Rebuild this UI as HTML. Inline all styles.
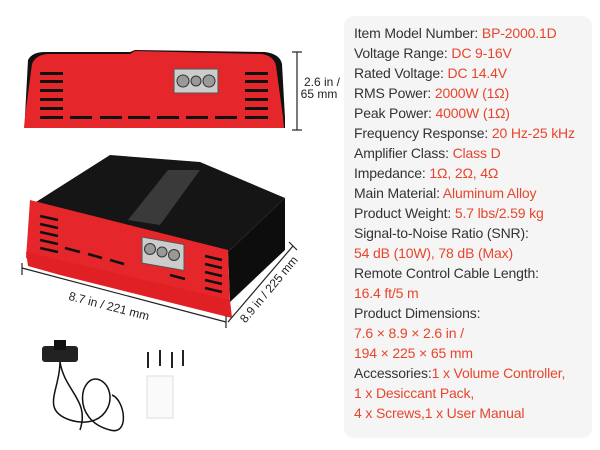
<!DOCTYPE html>
<html><head><meta charset="utf-8"><style>
html,body{margin:0;padding:0}
body{width:600px;height:450px;background:#fff;position:relative;overflow:hidden;font-family:"Liberation Sans",sans-serif}
.panel{position:absolute;left:344px;top:16px;width:248px;height:422px;background:#f5f5f5;border-radius:10px}
.t{position:absolute;left:354px;font-size:14px;color:#333;white-space:nowrap;letter-spacing:-0.15px;line-height:20px}
.o{color:#e8452c}
svg{position:absolute;left:0;top:0}
</style></head><body>
<div class="panel"></div>
<svg width="340" height="450" viewBox="0 0 340 450">
<path d="M28,60 Q32,52 45,52 L130,52 L135,50 L265,52 Q280,54 282,64 L285,118 L285,128 L25,128 L25,116 Z" fill="#111"/>
<path d="M32,64 Q36,54 50,54 L130,54 L135,51 L262,54 Q274,56 276,66 L283,117 L284,128 L24,128 L25,116 Z" fill="#e5262a"/>
<g fill="#111">
<rect x="40" y="72" width="23" height="3"/><rect x="40" y="80" width="23" height="3"/><rect x="40" y="89" width="23" height="3"/><rect x="40" y="98" width="23" height="3"/><rect x="40" y="107" width="23" height="3"/><rect x="40" y="116" width="23" height="3"/>
<rect x="245" y="72" width="23" height="3"/><rect x="245" y="80" width="23" height="3"/><rect x="245" y="89" width="23" height="3"/><rect x="245" y="98" width="23" height="3"/><rect x="245" y="107" width="23" height="3"/><rect x="245" y="116" width="23" height="3"/>
<rect x="70" y="116" width="22" height="3"/><rect x="100" y="116" width="22" height="3"/><rect x="128" y="116" width="22" height="3"/><rect x="157" y="116" width="22" height="3"/><rect x="186" y="116" width="22" height="3"/><rect x="215" y="116" width="22" height="3"/>
</g>
<rect x="174" y="69" width="44" height="24" fill="#ccc" stroke="#555"/>
<circle cx="183" cy="81" r="6" fill="#999" stroke="#333"/><circle cx="196" cy="81" r="5" fill="#999" stroke="#333"/><circle cx="209" cy="81" r="6" fill="#999" stroke="#333"/>
<g stroke="#222" stroke-width="1.2"><line x1="297" y1="52" x2="297" y2="130"/><line x1="292" y1="52" x2="302" y2="52"/><line x1="292" y1="130" x2="302" y2="130"/></g>
<text x="322" y="86" font-size="12" text-anchor="middle" fill="#222" font-family="Liberation Sans">2.6 in /</text>
<text x="319" y="98" font-size="12" text-anchor="middle" fill="#222" font-family="Liberation Sans">65 mm</text>
<path d="M36,202 L110,155 L200,162 L285,198 L228,252 Z" fill="#151515"/>
<path d="M168,170 L200,170 L160,225 L128,220 Z" fill="#3a3a3a"/>
<path d="M228,252 L285,198 L285,250 L230,302 Z" fill="#0d0d0d"/>
<path d="M30,200 L228,250 L230,305 L26,258 Z" fill="#e5262a"/>
<path d="M26,252 L230,300 L232,318 L60,275 L28,266 Z" fill="#e02024"/>
<g stroke="#111" stroke-width="2.5">
<line x1="40" y1="216" x2="58" y2="220"/><line x1="40" y1="224" x2="58" y2="228"/><line x1="40" y1="232" x2="58" y2="236"/><line x1="40" y1="240" x2="58" y2="244"/><line x1="40" y1="248" x2="58" y2="252"/>
<line x1="205" y1="256" x2="222" y2="260"/><line x1="205" y1="264" x2="222" y2="268"/><line x1="205" y1="272" x2="222" y2="276"/><line x1="205" y1="280" x2="222" y2="284"/><line x1="205" y1="288" x2="222" y2="292"/>
<line x1="65" y1="248" x2="80" y2="252"/><line x1="88" y1="254" x2="102" y2="258"/><line x1="110" y1="260" x2="124" y2="264"/><line x1="170" y1="275" x2="185" y2="279"/>
</g>
<rect x="142" y="238" width="42" height="26" fill="#ccc" stroke="#555" transform="skewY(10) translate(0,-26)"/>
<circle cx="150" cy="249" r="5.5" fill="#999" stroke="#333"/><circle cx="162" cy="252" r="5" fill="#999" stroke="#333"/><circle cx="174" cy="255" r="5.5" fill="#999" stroke="#333"/>
<g stroke="#222" stroke-width="1.2"><line x1="22" y1="268" x2="226" y2="322"/><line x1="22" y1="263" x2="22" y2="275"/><line x1="226" y1="316" x2="226" y2="328"/>
<line x1="228" y1="322" x2="293" y2="246"/><line x1="289" y1="242" x2="297" y2="250"/></g>
<text x="0" y="0" font-size="12" fill="#222" font-family="Liberation Sans" text-anchor="middle" transform="translate(108,310) rotate(14.5)">8.7 in / 221 mm</text>
<text x="0" y="0" font-size="12" fill="#222" font-family="Liberation Sans" text-anchor="middle" transform="translate(272,292) rotate(-50)">8.9 in / 225 mm</text>
<rect x="42" y="346" width="36" height="16" rx="3" fill="#222"/>
<rect x="54" y="340" width="12" height="10" fill="#111"/>
<path d="M60,362 C60,390 40,410 70,420 C110,432 120,390 100,380 C80,372 70,420 110,430 C130,436 125,400 112,395" fill="none" stroke="#111" stroke-width="1.5"/>
<path d="M60,362 C65,392 90,400 80,430" fill="none" stroke="#111" stroke-width="1.5"/>
<g stroke="#222" stroke-width="2"><line x1="148" y1="352" x2="148" y2="368"/><line x1="160" y1="350" x2="160" y2="366"/><line x1="172" y1="352" x2="172" y2="368"/><line x1="183" y1="350" x2="183" y2="366"/></g>
<rect x="147" y="376" width="26" height="42" fill="#fafafa" stroke="#ddd"/>
</svg>
<div class="t" style="top:23px">Item Model Number: <span class="o">BP-2000.1D</span></div>
<div class="t" style="top:43px">Voltage Range: <span class="o">DC 9-16V</span></div>
<div class="t" style="top:63px">Rated Voltage: <span class="o">DC 14.4V</span></div>
<div class="t" style="top:83px">RMS Power: <span class="o">2000W (1Ω)</span></div>
<div class="t" style="top:103px">Peak Power: <span class="o">4000W (1Ω)</span></div>
<div class="t" style="top:123px">Frequency Response: <span class="o">20 Hz-25 kHz</span></div>
<div class="t" style="top:143px">Amplifier Class: <span class="o">Class D</span></div>
<div class="t" style="top:163px">Impedance: <span class="o">1Ω, 2Ω, 4Ω</span></div>
<div class="t" style="top:183px">Main Material: <span class="o">Aluminum Alloy</span></div>
<div class="t" style="top:203px">Product Weight: <span class="o">5.7 lbs/2.59 kg</span></div>
<div class="t" style="top:223px">Signal-to-Noise Ratio (SNR):</div>
<div class="t o" style="top:243px">54 dB (10W), 78 dB (Max)</div>
<div class="t" style="top:263px">Remote Control Cable Length:</div>
<div class="t o" style="top:283px">16.4 ft/5 m</div>
<div class="t" style="top:303px">Product Dimensions:</div>
<div class="t o" style="top:323px">7.6 × 8.9 × 2.6 in /</div>
<div class="t o" style="top:343px">194 × 225 × 65 mm</div>
<div class="t" style="top:363px">Accessories:<span class="o">1 x Volume Controller,</span></div>
<div class="t o" style="top:383px">1 x Desiccant Pack,</div>
<div class="t o" style="top:403px">4 x Screws,1 x User Manual</div>
</body></html>
